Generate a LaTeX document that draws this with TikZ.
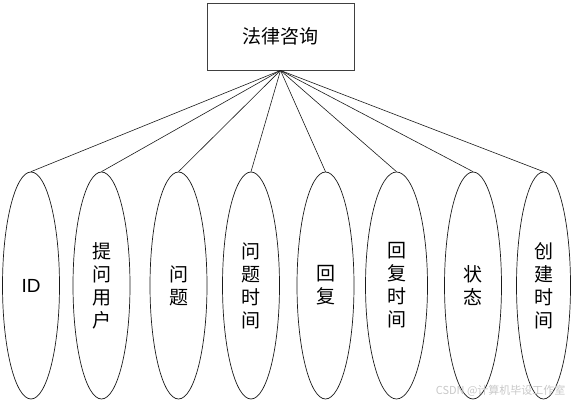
\documentclass[tikz,border=0pt]{standalone}
\usepackage{fontspec}
\usepackage{xcolor}
\usetikzlibrary{shapes.geometric}
\newfontfamily\cjk{Noto Sans CJK SC}
\setmainfont{Liberation Sans}
\definecolor{erline}{HTML}{1A1A1A}
\definecolor{erbox}{HTML}{404040}
\definecolor{ermark}{HTML}{C8C8C8}

\begin{document}
\begin{tikzpicture}[
  x=1pt, y=1pt,
  every node/.style={font=\cjk\fontsize{19}{23}\selectfont},
  entity/.style={rectangle, draw=erbox, line width=0.9pt, minimum width=147pt, minimum height=67pt, inner sep=0pt},
  attr/.style={ellipse, draw=erline, line width=0.7pt, minimum width=57pt, minimum height=227pt, inner sep=0pt, align=center},
  link/.style={draw=erline, line width=0.6pt},
]
\useasboundingbox (0,0) rectangle (572,402);
\node[entity] (law) at (280.5, 365.5) {法律咨询};

\node[attr] (id) at (31, 116.5) {\fontspec{Liberation Sans}ID};
\node[attr] (user) at (101.5, 116.5) {提\\问\\用\\户};
\node[attr] (ques) at (178.5, 116.5) {问\\题};
\node[attr] (qtime) at (251, 116.5) {问\\题\\时\\间};
\node[attr] (reply) at (325.5, 116.5) {回\\复};
\node[attr, minimum width=62pt] (rtime) at (396.5, 116.5) {回\\复\\时\\间};
\node[attr] (state) at (473, 116.5) {状\\态};
\node[attr, minimum width=54pt] (ctime) at (543.5, 116.5) {创\\建\\时\\间};

\draw[link] (law.south) -- (id.north);
\draw[link] (law.south) -- (user.north);
\draw[link] (law.south) -- (ques.north);
\draw[link] (law.south) -- (qtime.north);
\draw[link] (law.south) -- (reply.north);
\draw[link] (law.south) -- (rtime.north);
\draw[link] (law.south) -- (state.north);
\draw[link] (law.south) -- (ctime.north);

\node[font=\cjk\fontsize{11}{13}\selectfont, text=ermark, anchor=east] (mark) at (569, 11) {CSDN @计算机毕设工作室};
\end{tikzpicture}
\end{document}
